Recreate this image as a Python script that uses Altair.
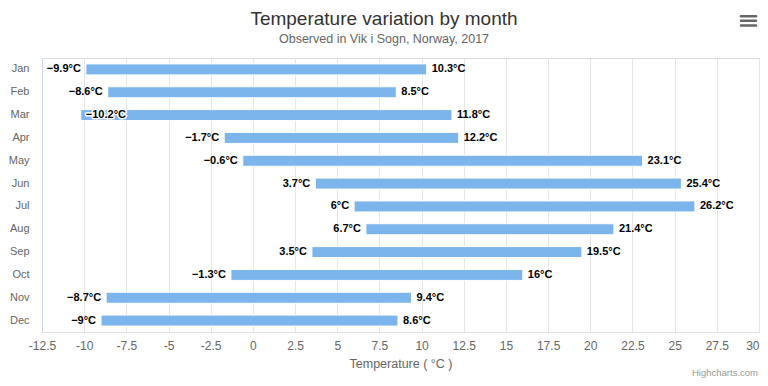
import altair as alt
import pandas as pd

months = ["Jan", "Feb", "Mar", "Apr", "May", "Jun", "Jul", "Aug", "Sep", "Oct", "Nov", "Dec"]
lows = [-9.9, -8.6, -10.2, -1.7, -0.6, 3.7, 6.0, 6.7, 3.5, -1.3, -8.7, -9.0]
highs = [10.3, 8.5, 11.8, 12.2, 23.1, 25.4, 26.2, 21.4, 19.5, 16.0, 9.4, 8.6]
x_ticks = [-12.5, -10, -7.5, -5, -2.5, 0, 2.5, 5, 7.5, 10, 12.5, 15, 17.5, 20, 22.5, 25, 27.5, 30]

TITLE = "Temperature variation by month"
SUBTITLE = "Observed in Vik i Sogn, Norway, 2017"
X_TITLE = "Temperature ( °C )"
CREDITS = "Highcharts.com"


def fmt(v):
    return f"{v:g}".replace("-", "\u2212") + "°C"


df = pd.DataFrame({
    "month": months,
    "low": lows,
    "high": highs,
    "low_label": [fmt(v) for v in lows],
    "high_label": [fmt(v) for v in highs],
})

FONT = "Liberation Sans"

x_axis = alt.Axis(
    values=x_ticks,
    labelExpr="datum.value + ''",
    domain=False,
    ticks=False,
    tickSize=0,
    labelPadding=8,
    grid=True,
    gridColor="#e6e6e6",
    gridWidth=1,
    labelFont=FONT,
    labelFontSize=12,
    labelColor="#666666",
    labelAlign={"condition": {"test": "datum.value == 30", "value": "right"}, "value": "center"},
    titleFont=FONT,
    titleFontSize=12.5,
    titleFontWeight="normal",
    titleColor="#666666",
    titlePadding=6,
)
x_scale = alt.Scale(domain=[-12.5, 30], nice=False, zero=False)


def xenc(field):
    return alt.X(f"{field}:Q", scale=x_scale, axis=x_axis, title=X_TITLE)


y = alt.Y(
    "month:N",
    sort=months,
    title=None,
    scale=alt.Scale(paddingInner=0, paddingOuter=0),
    axis=alt.Axis(
        domainColor="#ccd6eb",
        domainWidth=1,
        ticks=False,
        tickSize=0,
        labelPadding=13,
        labelFont=FONT,
        labelFontSize=11,
        labelColor="#666666",
        grid=False,
    ),
)

base = alt.Chart(df)

bars = base.mark_bar(color="#7cb5ec", size=11, stroke="white", strokeWidth=1).encode(
    x=xenc("low"), x2="high:Q", y=y
)

label_style = dict(font=FONT, fontSize=11, fontWeight="bold", color="black", baseline="middle")

low_out = base.transform_filter("datum.low >= -10").mark_text(
    align="right", dx=-5, **label_style
).encode(x=xenc("low"), y=y, text="low_label:N")

low_in_halo = base.transform_filter("datum.low < -10").mark_text(
    align="left", dx=5, stroke="white", strokeWidth=3, strokeJoin="round", **label_style
).encode(x=xenc("low"), y=y, text="low_label:N")

low_in = base.transform_filter("datum.low < -10").mark_text(
    align="left", dx=5, **label_style
).encode(x=xenc("low"), y=y, text="low_label:N")

high_txt = base.mark_text(align="left", dx=5, **label_style).encode(
    x=xenc("high"), y=y, text="high_label:N"
)

one = alt.Chart(pd.DataFrame({"k": [0]}))

title_txt = one.mark_text(
    text=TITLE, align="center", baseline="alphabetic", font=FONT, fontSize=19, color="#333333"
).encode(x=alt.value(342), y=alt.value(-33.5))

subtitle_txt = one.mark_text(
    text=SUBTITLE, align="center", baseline="alphabetic", font=FONT, fontSize=12.5, color="#666666"
).encode(x=alt.value(342), y=alt.value(-15))

credits = one.mark_text(
    text=CREDITS, align="right", baseline="middle", font=FONT, fontSize=9.5, color="#999999"
).encode(x=alt.value(716), y=alt.value(315))

menu = [
    one.mark_rule(color="#666666", strokeWidth=2.5, strokeCap="round").encode(
        x=alt.value(699), x2=alt.value(714), y=alt.value(yy)
    )
    for yy in (-41.8, -37.2, -32.6)
]

chart = alt.layer(
    bars, low_out, low_in_halo, low_in, high_txt, title_txt, subtitle_txt, credits, *menu
).properties(
    width=717,
    height=274,
    autosize=alt.AutoSizeParams(type="none"),
    padding={"left": 34, "top": 50, "right": 1, "bottom": 46},
).configure_view(stroke=None).configure(background="white")

chart.save("out.html", embed_options={"renderer": "svg", "actions": False})
